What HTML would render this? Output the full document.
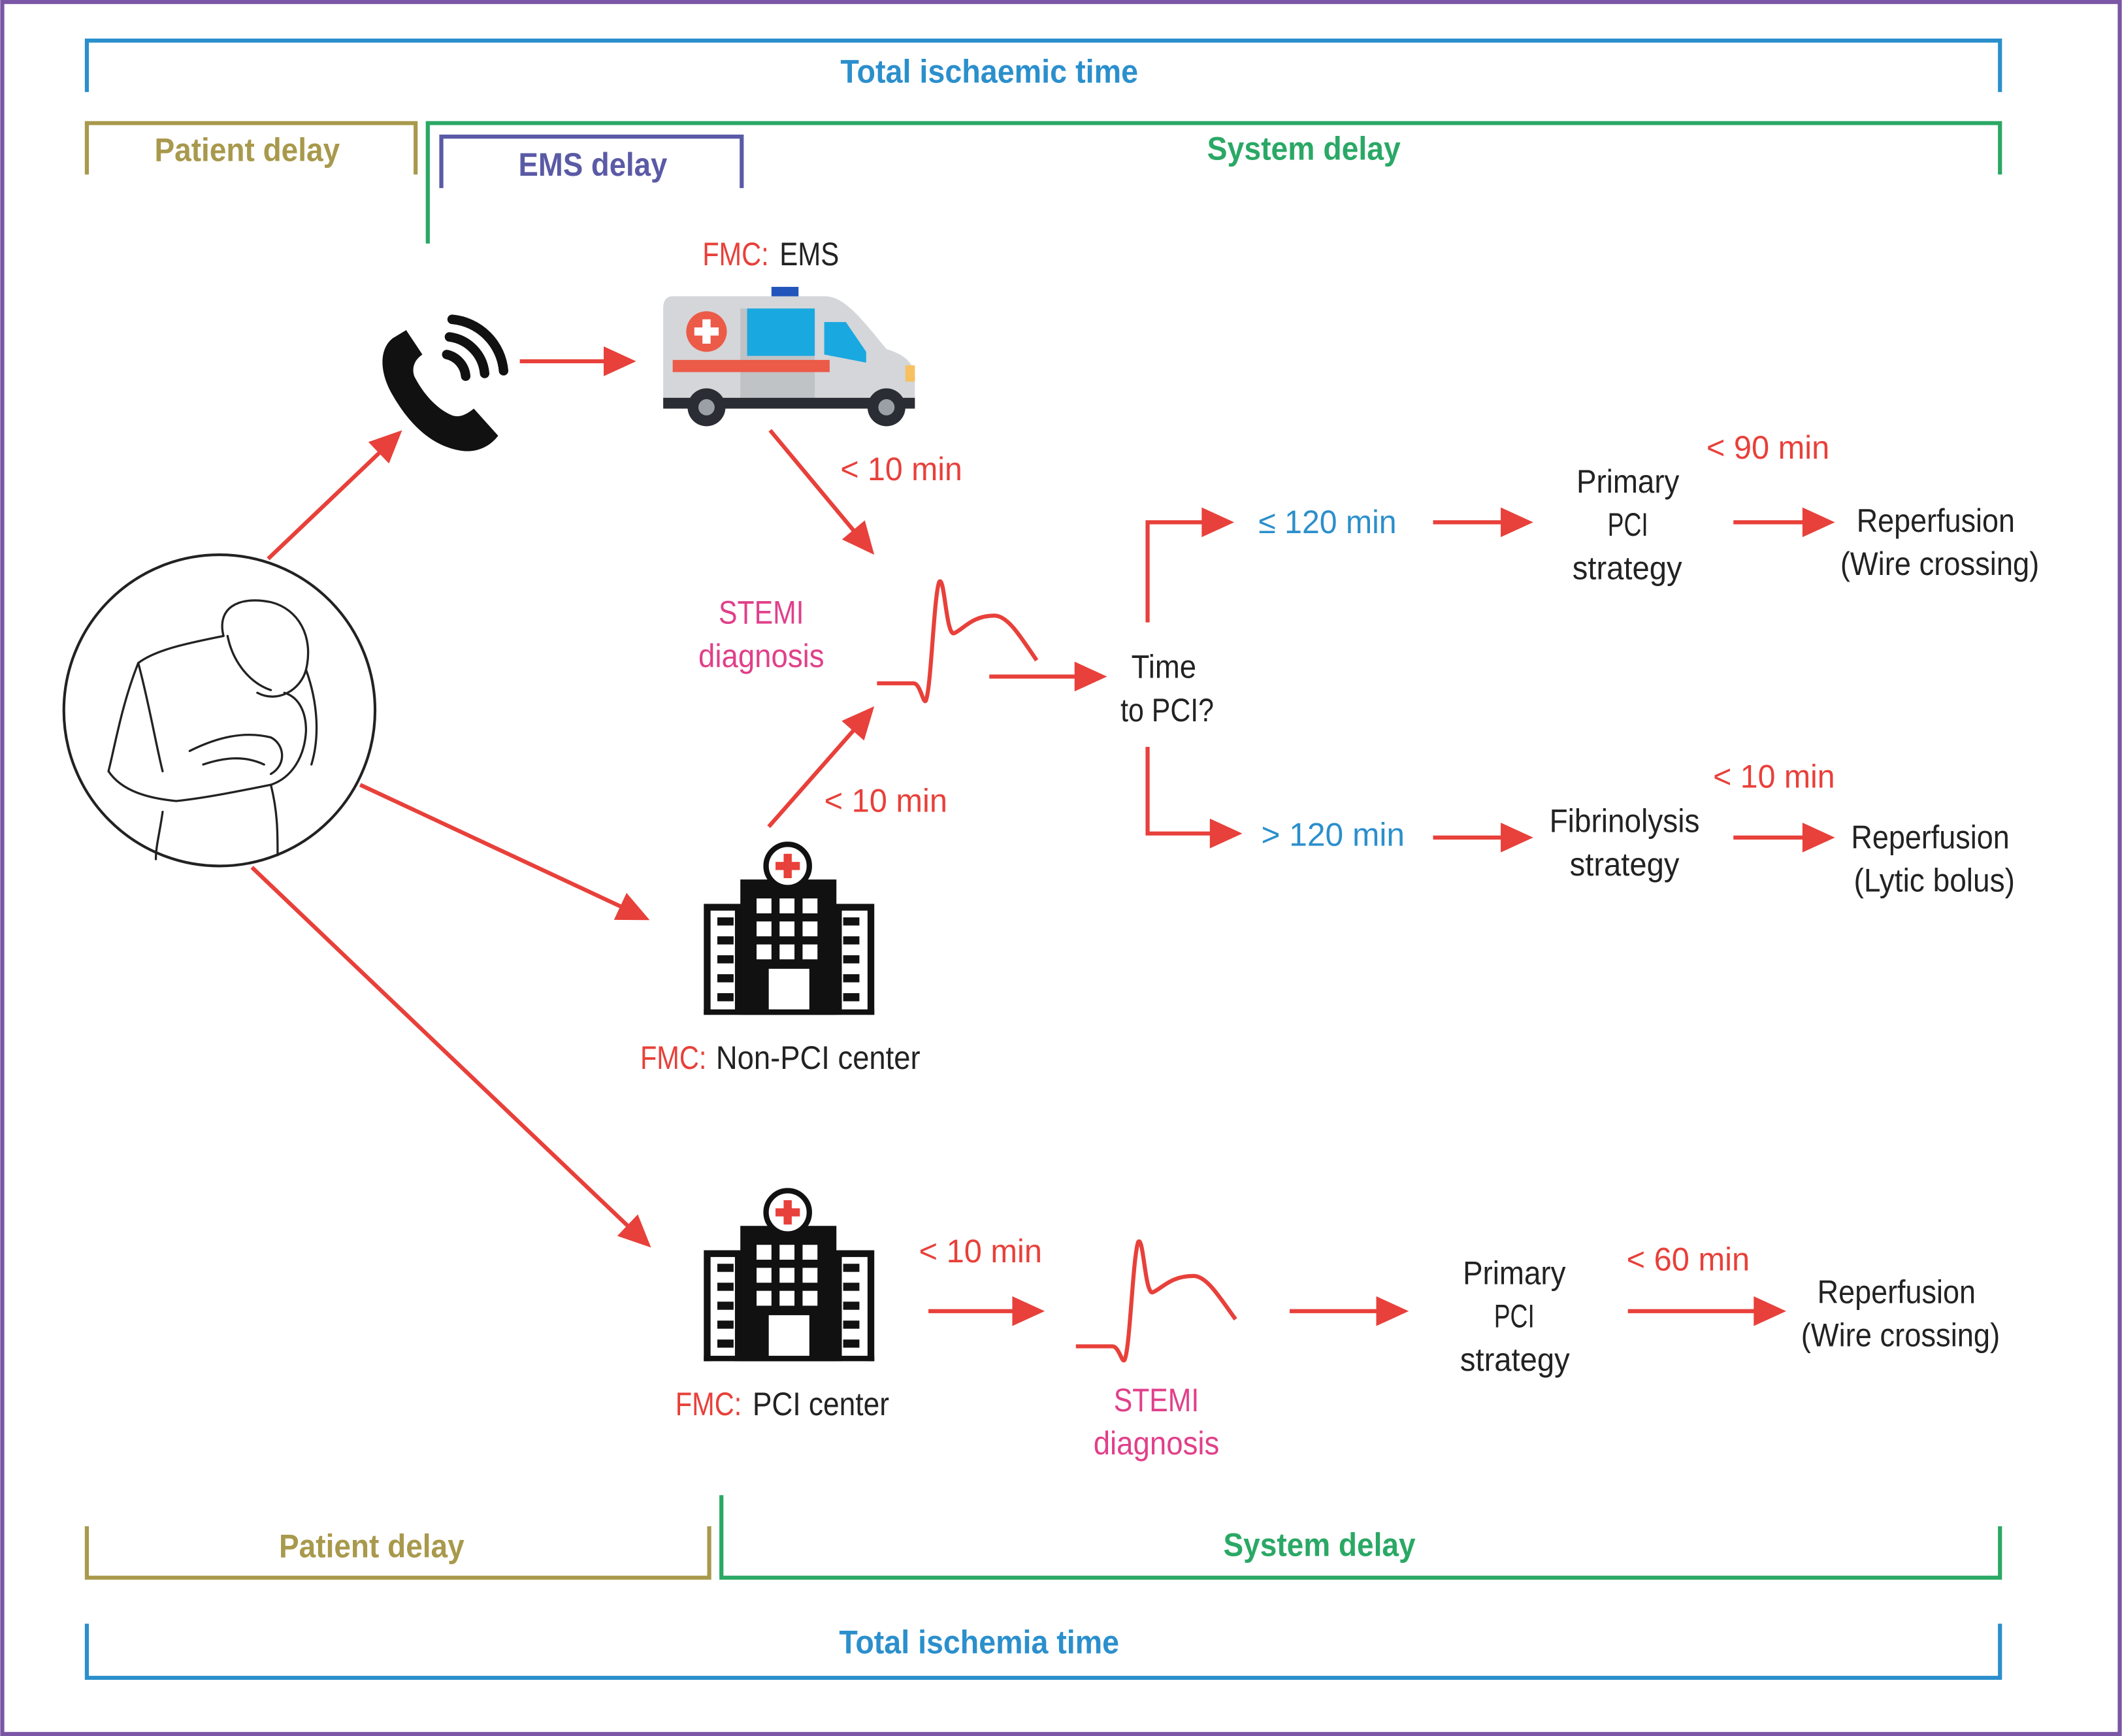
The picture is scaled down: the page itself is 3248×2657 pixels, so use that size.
<!DOCTYPE html>
<html><head><meta charset="utf-8">
<style>
html,body{margin:0;padding:0;background:#fff;}
svg{display:block;}
text{font-family:"Liberation Sans Narrow","Liberation Sans",sans-serif;}
</style></head>
<body>
<svg width="3248" height="2657" viewBox="0 0 1568 1283" xmlns="http://www.w3.org/2000/svg">
<rect x="1.5" y="1.5" width="1565" height="1280" fill="#fff" stroke="#7b56a4" stroke-width="3"/>

<!-- top brackets -->
<polyline points="64,68 64,30 1478,30 1478,68" fill="none" stroke="#2b8fcc" stroke-width="3"/>
<text x="621" y="61" font-size="24" font-weight="bold" fill="#2b8fcc" textLength="220" lengthAdjust="spacingAndGlyphs">Total ischaemic time</text>
<polyline points="64,129 64,91 307,91 307,129" fill="none" stroke="#a8994c" stroke-width="3"/>
<text x="114" y="119" font-size="24" font-weight="bold" fill="#a8994c" textLength="137" lengthAdjust="spacingAndGlyphs">Patient delay</text>
<polyline points="316,180 316,91 1478,91 1478,129" fill="none" stroke="#2aa865" stroke-width="3"/>
<text x="892" y="118" font-size="24" font-weight="bold" fill="#2aa865" textLength="143" lengthAdjust="spacingAndGlyphs">System delay</text>
<polyline points="326,139 326,101 548,101 548,139" fill="none" stroke="#5a5aa6" stroke-width="3"/>
<text x="383" y="130" font-size="24" font-weight="bold" fill="#5a5aa6" textLength="110" lengthAdjust="spacingAndGlyphs">EMS delay</text>

<!-- bottom brackets -->
<polyline points="64,1128 64,1166 524,1166 524,1128" fill="none" stroke="#a8994c" stroke-width="3"/>
<text x="206" y="1151" font-size="24" font-weight="bold" fill="#a8994c" textLength="137" lengthAdjust="spacingAndGlyphs">Patient delay</text>
<polyline points="533,1105 533,1166 1478,1166 1478,1128" fill="none" stroke="#2aa865" stroke-width="3"/>
<text x="904" y="1150" font-size="24" font-weight="bold" fill="#2aa865" textLength="142" lengthAdjust="spacingAndGlyphs">System delay</text>
<polyline points="64,1200 64,1240 1478,1240 1478,1200" fill="none" stroke="#2b8fcc" stroke-width="3"/>
<text x="620" y="1222" font-size="24" font-weight="bold" fill="#2b8fcc" textLength="207" lengthAdjust="spacingAndGlyphs">Total ischemia time</text>

<!-- patient circle -->
<circle cx="162" cy="525" r="115" fill="#fff" stroke="#222" stroke-width="2"/>
<g fill="none" stroke="#222" stroke-width="1.6" stroke-linecap="round">
<path d="M165,470 C160,450 175,440 200,445 C220,450 232,470 226,495 C222,510 205,520 190,512"/>
<path d="M168,470 C172,490 185,505 200,510"/>
<path d="M165,470 C140,475 115,480 102,490 C90,520 85,550 80,570 C90,585 110,590 130,592"/>
<path d="M102,490 C110,520 115,550 120,570"/>
<path d="M130,592 C150,590 175,585 200,580 C215,575 225,560 226,540 C226,525 220,515 210,512"/>
<path d="M140,555 C160,545 180,540 200,545 C210,550 212,565 200,572"/>
<path d="M150,565 C165,560 180,558 195,565"/>
<path d="M120,600 C118,615 115,625 115,635"/>
<path d="M200,580 C205,600 205,615 205,632"/>
<path d="M226,495 C235,520 236,545 230,565"/>
</g>

<!-- phone -->
<g>
<path d="M290,250 C280,258 280,275 290,292 C305,318 322,330 340,333 C352,335 362,330 368,322 L350,302 C345,306 340,309 334,307 C322,302 312,290 306,278 C304,272 306,266 312,262 L300,244 Z" fill="#111"/>
<path d="M330,262 A18,18 0 0 1 344,278" fill="none" stroke="#111" stroke-width="7" stroke-linecap="round"/>
<path d="M332,249 A30,30 0 0 1 358,276" fill="none" stroke="#111" stroke-width="7" stroke-linecap="round"/>
<path d="M334,236 A42,42 0 0 1 372,274" fill="none" stroke="#111" stroke-width="7" stroke-linecap="round"/>
</g>

<!-- ambulance -->
<g>
<rect x="570" y="212" width="20" height="7" fill="#2255bb"/>
<path d="M497,219 L610,219 C625,219 640,240 655,258 C668,262 676,268 676,280 L676,300 L490,300 L490,228 Q490,219 497,219 Z" fill="#d4d6d9"/>
<rect x="547" y="228" width="55" height="70" fill="#c0c3c6"/>
<rect x="552" y="228" width="50" height="35" fill="#1aa8e0"/>
<path d="M609,238 L625,238 L640,260 L640,268 L609,262 Z" fill="#1aa8e0"/>
<rect x="497" y="266" width="116" height="9" fill="#ec5a48"/>
<circle cx="522" cy="245" r="15" fill="#ec5a48"/>
<rect x="519" y="236" width="6" height="18" fill="#fff"/><rect x="513" y="242" width="18" height="6" fill="#fff"/>
<rect x="490" y="294" width="186" height="8" fill="#2a2d33"/>
<circle cx="522" cy="301" r="14" fill="#2a2d33"/><circle cx="522" cy="301" r="6" fill="#9aa0a6"/>
<circle cx="655" cy="301" r="14" fill="#2a2d33"/><circle cx="655" cy="301" r="6" fill="#9aa0a6"/>
<rect x="669" y="270" width="7" height="12" fill="#f7c060"/>
</g>

<!-- arrows -->
<g stroke="#e8403a" stroke-width="3" fill="none">
<line x1="198" y1="413" x2="284" y2="331"/>
<line x1="384" y1="267" x2="452" y2="267"/>
<line x1="569" y1="318" x2="634" y2="396"/>
<line x1="266" y1="580" x2="463" y2="672"/>
<line x1="186" y1="641" x2="468" y2="910"/>
<line x1="568" y1="611" x2="634" y2="536"/>
<line x1="731" y1="500" x2="800" y2="500"/>
<polyline points="848,460 848,386 894,386"/>
<polyline points="848,552 848,616 900,616"/>
<line x1="1059" y1="386" x2="1115" y2="386"/>
<line x1="1281" y1="386" x2="1338" y2="386"/>
<line x1="1059" y1="619" x2="1115" y2="619"/>
<line x1="1281" y1="619" x2="1338" y2="619"/>
<line x1="686" y1="969" x2="754" y2="969"/>
<line x1="953" y1="969" x2="1023" y2="969"/>
<line x1="1203" y1="969" x2="1302" y2="969"/>
</g>
<g fill="#e8403a">
<polygon points="0,0 -24,-11 -24,11" transform="translate(297,318) rotate(-43.8)"/>
<polygon points="0,0 -24,-11 -24,11" transform="translate(470,267)"/>
<polygon points="0,0 -24,-11 -24,11" transform="translate(646,410) rotate(50)"/>
<polygon points="0,0 -24,-11 -24,11" transform="translate(480,680) rotate(25)"/>
<polygon points="0,0 -24,-11 -24,11" transform="translate(481,922) rotate(43.6)"/>
<polygon points="0,0 -24,-11 -24,11" transform="translate(646,522) rotate(-48.7)"/>
<polygon points="0,0 -24,-11 -24,11" transform="translate(818,500)"/>
<polygon points="0,0 -24,-11 -24,11" transform="translate(912,386)"/>
<polygon points="0,0 -24,-11 -24,11" transform="translate(918,616)"/>
<polygon points="0,0 -24,-11 -24,11" transform="translate(1133,386)"/>
<polygon points="0,0 -24,-11 -24,11" transform="translate(1356,386)"/>
<polygon points="0,0 -24,-11 -24,11" transform="translate(1133,619)"/>
<polygon points="0,0 -24,-11 -24,11" transform="translate(1356,619)"/>
<polygon points="0,0 -24,-11 -24,11" transform="translate(772,969)"/>
<polygon points="0,0 -24,-11 -24,11" transform="translate(1041,969)"/>
<polygon points="0,0 -24,-11 -24,11" transform="translate(1320,969)"/>
</g>

<!-- ECG -->
<path d="M648,505 L675,505 C680,505 682,520 684,518 C688,510 690,440 694,430 C698,425 699,470 705,468 C712,465 718,455 735,455 C745,455 755,472 766,488" fill="none" stroke="#e8403a" stroke-width="3"/>
<path d="M795,995 L822,995 C827,995 829,1008 831,1005 C835,997 837,930 841,918 C845,912 846,958 852,955 C859,952 865,943 882,943 C892,943 902,960 913,975" fill="none" stroke="#e8403a" stroke-width="3"/>

<!-- texts -->
<g font-size="24" lengthAdjust="spacingAndGlyphs">
<text x="519" y="196" fill="#e8403a" textLength="49" lengthAdjust="spacingAndGlyphs">FMC:</text>
<text x="576" y="196" fill="#222" textLength="44" lengthAdjust="spacingAndGlyphs">EMS</text>
<text x="621" y="355" fill="#e8403a" textLength="90" lengthAdjust="spacingAndGlyphs">&lt; 10 min</text>
<text x="609" y="600" fill="#e8403a" textLength="91" lengthAdjust="spacingAndGlyphs">&lt; 10 min</text>
<text x="679" y="933" fill="#e8403a" textLength="91" lengthAdjust="spacingAndGlyphs">&lt; 10 min</text>
<text x="1261" y="339" fill="#e8403a" textLength="91" lengthAdjust="spacingAndGlyphs">&lt; 90 min</text>
<text x="1266" y="582" fill="#e8403a" textLength="90" lengthAdjust="spacingAndGlyphs">&lt; 10 min</text>
<text x="1202" y="939" fill="#e8403a" textLength="91" lengthAdjust="spacingAndGlyphs">&lt; 60 min</text>
<text x="531" y="461" fill="#e0408a" textLength="63" lengthAdjust="spacingAndGlyphs">STEMI</text>
<text x="516" y="493" fill="#e0408a" textLength="93" lengthAdjust="spacingAndGlyphs">diagnosis</text>
<text x="823" y="1043" fill="#e0408a" textLength="63" lengthAdjust="spacingAndGlyphs">STEMI</text>
<text x="808" y="1075" fill="#e0408a" textLength="93" lengthAdjust="spacingAndGlyphs">diagnosis</text>
<text x="836" y="501" fill="#222" textLength="48" lengthAdjust="spacingAndGlyphs">Time</text>
<text x="828" y="533" fill="#222" textLength="69" lengthAdjust="spacingAndGlyphs">to PCI?</text>
<text x="930" y="394" fill="#2b8fcc" textLength="102" lengthAdjust="spacingAndGlyphs">≤ 120 min</text>
<text x="932" y="625" fill="#2b8fcc" textLength="106" lengthAdjust="spacingAndGlyphs">&gt; 120 min</text>
<text x="1165" y="364" fill="#222" textLength="76" lengthAdjust="spacingAndGlyphs">Primary</text>
<text x="1188" y="396" fill="#222" textLength="30" lengthAdjust="spacingAndGlyphs">PCI</text>
<text x="1162" y="428" fill="#222" textLength="81" lengthAdjust="spacingAndGlyphs">strategy</text>
<text x="1372" y="393" fill="#222" textLength="117" lengthAdjust="spacingAndGlyphs">Reperfusion</text>
<text x="1360" y="425" fill="#222" textLength="147" lengthAdjust="spacingAndGlyphs">(Wire crossing)</text>
<text x="1145" y="615" fill="#222" textLength="111" lengthAdjust="spacingAndGlyphs">Fibrinolysis</text>
<text x="1160" y="647" fill="#222" textLength="81" lengthAdjust="spacingAndGlyphs">strategy</text>
<text x="1368" y="627" fill="#222" textLength="117" lengthAdjust="spacingAndGlyphs">Reperfusion</text>
<text x="1370" y="659" fill="#222" textLength="119" lengthAdjust="spacingAndGlyphs">(Lytic bolus)</text>
<text x="1081" y="949" fill="#222" textLength="76" lengthAdjust="spacingAndGlyphs">Primary</text>
<text x="1104" y="981" fill="#222" textLength="30" lengthAdjust="spacingAndGlyphs">PCI</text>
<text x="1079" y="1013" fill="#222" textLength="81" lengthAdjust="spacingAndGlyphs">strategy</text>
<text x="1343" y="963" fill="#222" textLength="117" lengthAdjust="spacingAndGlyphs">Reperfusion</text>
<text x="1331" y="995" fill="#222" textLength="147" lengthAdjust="spacingAndGlyphs">(Wire crossing)</text>
<text x="473" y="790" fill="#e8403a" textLength="49" lengthAdjust="spacingAndGlyphs">FMC:</text>
<text x="529" y="790" fill="#222" textLength="151" lengthAdjust="spacingAndGlyphs">Non-PCI center</text>
<text x="499" y="1046" fill="#e8403a" textLength="49" lengthAdjust="spacingAndGlyphs">FMC:</text>
<text x="556" y="1046" fill="#222" textLength="101" lengthAdjust="spacingAndGlyphs">PCI center</text>
</g>

<!-- hospitals -->
<g id="hosp">
<rect x="520" y="668" width="126" height="82" fill="#111"/>
<rect x="547" y="650" width="71" height="100" fill="#111"/>
<rect x="525" y="673" width="18" height="77" fill="#fff"/>
<rect x="622" y="673" width="19" height="77" fill="#fff"/>
<rect x="530" y="678" width="12" height="6" fill="#111"/><rect x="530" y="692" width="12" height="6" fill="#111"/><rect x="530" y="706" width="12" height="6" fill="#111"/><rect x="530" y="720" width="12" height="6" fill="#111"/><rect x="530" y="734" width="12" height="6" fill="#111"/>
<rect x="623" y="678" width="12" height="6" fill="#111"/><rect x="623" y="692" width="12" height="6" fill="#111"/><rect x="623" y="706" width="12" height="6" fill="#111"/><rect x="623" y="720" width="12" height="6" fill="#111"/><rect x="623" y="734" width="12" height="6" fill="#111"/>
<rect x="520" y="746" width="126" height="4" fill="#111"/>
<g fill="#fff">
<rect x="559" y="664" width="11" height="11"/><rect x="576" y="664" width="11" height="11"/><rect x="593" y="664" width="11" height="11"/>
<rect x="559" y="681" width="11" height="11"/><rect x="576" y="681" width="11" height="11"/><rect x="593" y="681" width="11" height="11"/>
<rect x="559" y="698" width="11" height="11"/><rect x="576" y="698" width="11" height="11"/><rect x="593" y="698" width="11" height="11"/>
<rect x="568" y="716" width="30" height="30"/>
</g>
<circle cx="582" cy="640" r="16" fill="#fff" stroke="#111" stroke-width="4"/>
<rect x="579" y="631" width="6" height="18" fill="#e8403a"/><rect x="573" y="637" width="18" height="6" fill="#e8403a"/>
</g>
<use href="#hosp" transform="translate(0,256)"/>
</svg>
</body></html>
